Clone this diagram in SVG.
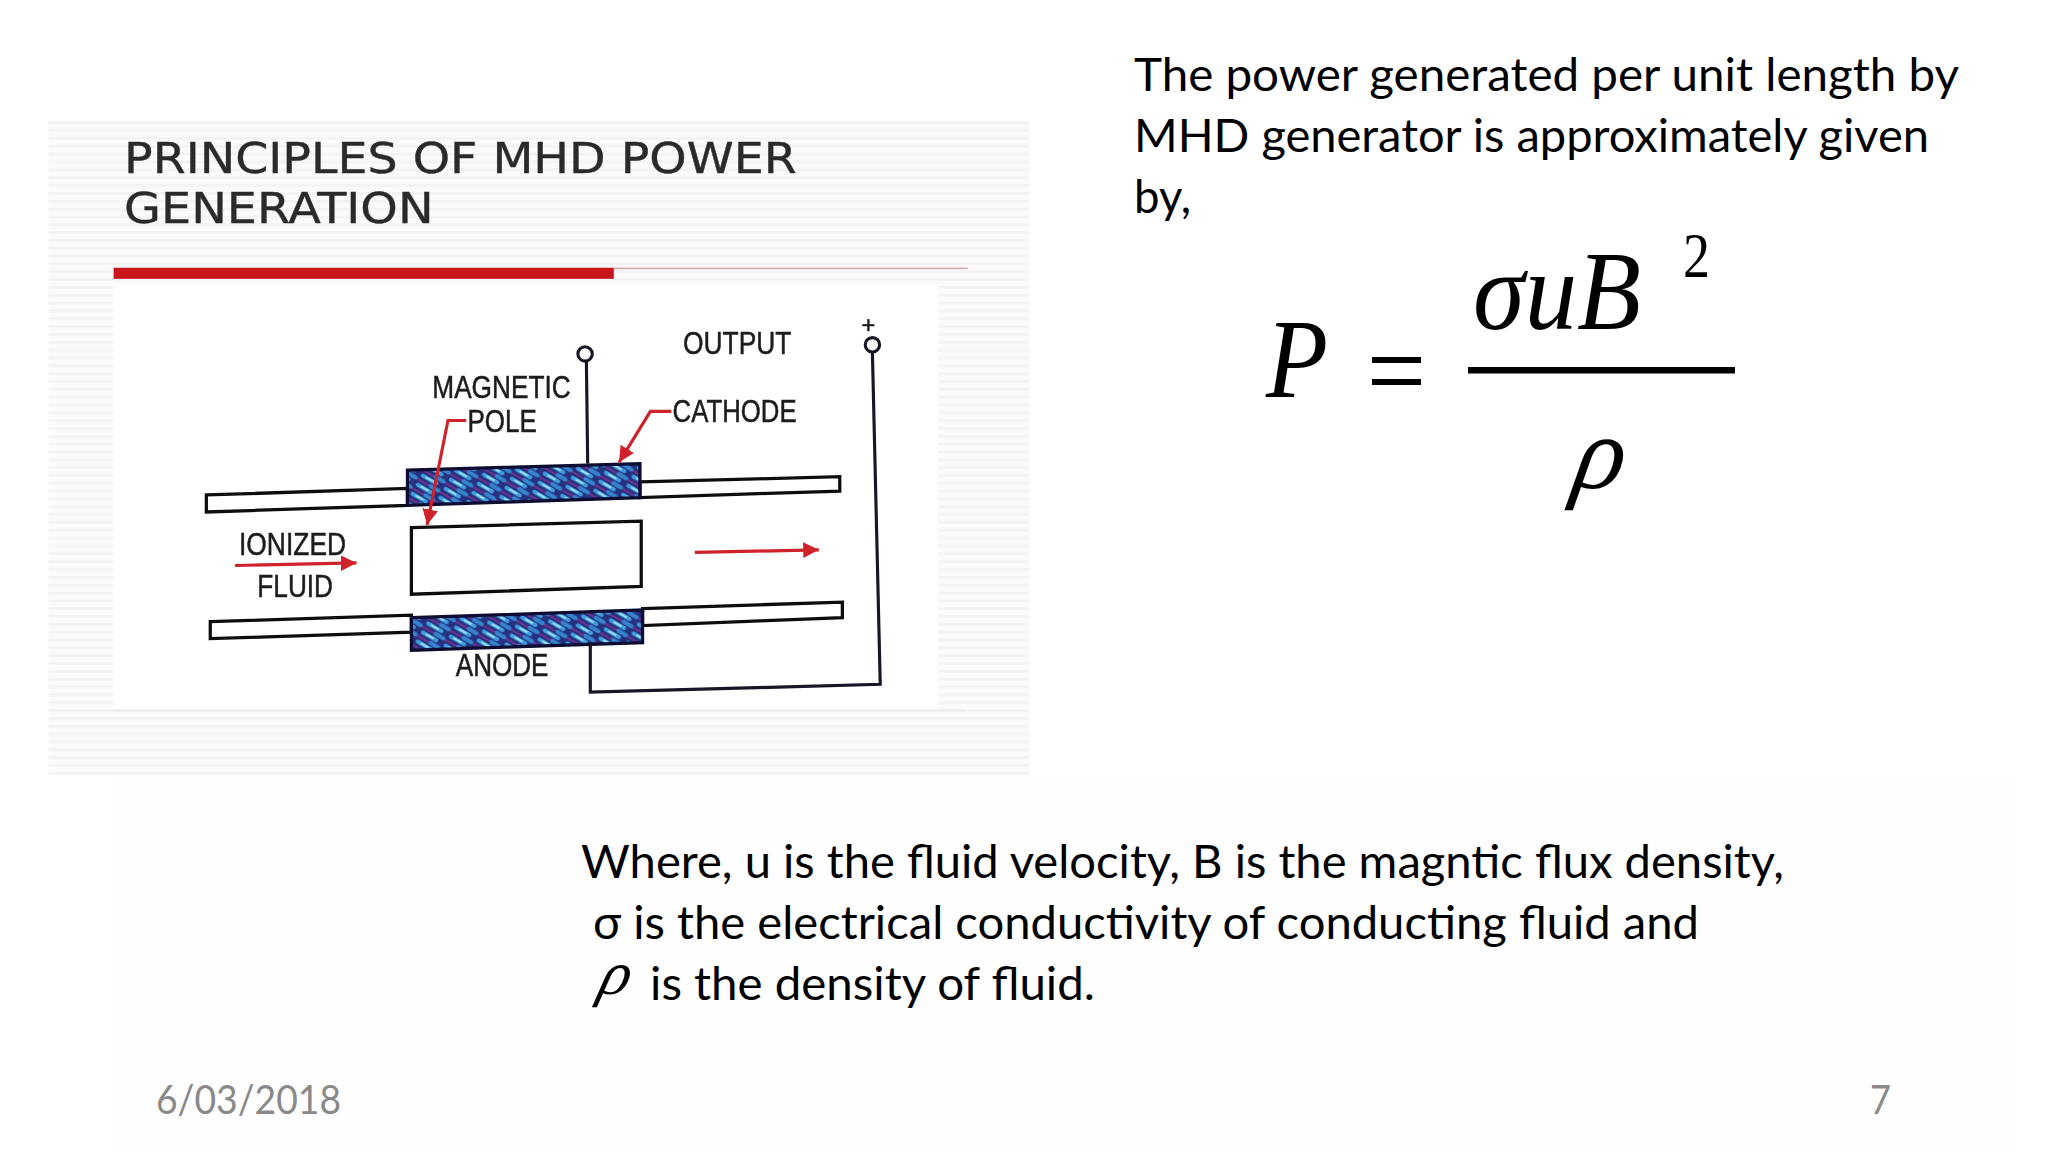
<svg xmlns="http://www.w3.org/2000/svg" width="2048" height="1152" viewBox="0 0 2048 1152">
<style>
.body{font-family:Lato,"Liberation Sans",sans-serif;font-size:46px;fill:#000}
.foot{font-family:Lato,"Liberation Sans",sans-serif;font-size:41px;fill:#898989}
.math{font-family:"Liberation Serif",serif;font-style:italic;fill:#000}
.head{font-family:"DejaVu Sans",sans-serif;font-size:33px;fill:#2c2c2c;stroke:#2c2c2c;stroke-width:.3px}
.lab{font-family:"Liberation Sans",sans-serif;font-size:24px;fill:#1c1c1c;stroke:#1c1c1c;stroke-width:.4px}
.plate{fill:#fff;stroke:#111;stroke-width:2.500}
.hatchblock{fill:url(#hatch);stroke:#0a0a30;stroke-width:2.500}
.wire{fill:none;stroke:#151525;stroke-width:2.400}
.redl{fill:none;stroke:#d0202a;stroke-width:2.400;marker-end:url(#ah)}
</style>
<defs>
<filter id="soft" x="0" y="0" width="100%" height="100%"><feGaussianBlur stdDeviation="0.45"/></filter>
<pattern id="stripes" width="6" height="6" patternUnits="userSpaceOnUse">
<rect width="6" height="6" fill="#fbfbfb"/><rect y="3" width="6" height="2" fill="#f3f3f3"/>
</pattern>
<pattern id="hatch" width="20" height="8" patternUnits="userSpaceOnUse" patternTransform="rotate(30)">
<rect width="20" height="8" fill="#25307f"/>
<rect y="0" x="1" width="15" height="3" rx="1.500" fill="#3f9ede"/>
<rect x="5" y="0.700" width="7" height="1.500" fill="#9be0f2"/>
<rect y="5" width="20" height="1.500" fill="#70308c"/>
<rect x="10" y="4" width="10" height="3" rx="1.500" fill="#3586cf"/>
</pattern>
<marker id="ah" markerWidth="6" markerHeight="6" refX="5" refY="2.500" orient="auto" markerUnits="strokeWidth">
<path d="M0 0L5 2.500L0 5z" fill="#d0202a"/>
</marker>
</defs>
<rect width="2048" height="1152" fill="#fff"/>
<rect x="114" y="776" width="1900" height="376" fill="#fefefe"/>
<g id="picture-panel" transform="scale(1.306)" filter="url(#soft)">
<rect x="37" y="93" width="751" height="501" fill="url(#stripes)"/>
<rect x="87" y="218" width="631" height="325" fill="#fff"/>
<line x1="87" y1="544" x2="740" y2="544" stroke="#eeeeee" stroke-width="2"/>
<text class="head" x="95" y="132.500" textLength="515" lengthAdjust="spacingAndGlyphs">PRINCIPLES OF MHD POWER</text>
<text class="head" x="95" y="170.500" textLength="237" lengthAdjust="spacingAndGlyphs">GENERATION</text>
<rect x="87" y="205" width="383" height="8.500" fill="#c8141c"/>
<line x1="470" y1="205.500" x2="741" y2="205.500" stroke="#cdaeae" stroke-width="1.500"/>
<g id="top-plate"><path class="plate" d="M158 379L312 374V387L158 392z"/><path class="plate" d="M490 369L643 365V376L490 381z"/></g>
<g id="bottom-plate"><path class="plate" d="M161 476L315 471V484L161 489z"/><path class="plate" d="M492 466L645 461V473L492 479z"/></g>
<g id="cathode"><path class="hatchblock" d="M312 360L490 355V381L312 387z"/><text class="lab" x="515" y="323" textLength="95" lengthAdjust="spacingAndGlyphs">CATHODE</text></g>
<g id="anode"><path class="hatchblock" d="M315 473L492 467V492L315 498z"/><text class="lab" x="349" y="518" textLength="71" lengthAdjust="spacingAndGlyphs">ANODE</text></g>
<g id="channel"><path class="plate" d="M315 404L491 399V449L315 455z"/></g>
<g id="magnetic-pole"><text class="lab" x="331" y="305" textLength="106" lengthAdjust="spacingAndGlyphs">MAGNETIC</text><text class="lab" x="358" y="331" textLength="53" lengthAdjust="spacingAndGlyphs">POLE</text></g>
<g id="ionized-fluid"><text class="lab" x="183" y="425" textLength="82" lengthAdjust="spacingAndGlyphs">IONIZED</text><text class="lab" x="197" y="457" textLength="58" lengthAdjust="spacingAndGlyphs">FLUID</text></g>
<g id="output"><text class="lab" x="523" y="271" textLength="83" lengthAdjust="spacingAndGlyphs">OUTPUT</text><text class="lab" x="665" y="255" text-anchor="middle" style="font-size:18px">+</text>
<circle class="wire" cx="448" cy="271" r="5.500"/><circle class="wire" cx="668" cy="264" r="5.500"/></g>
<g id="connectors">
<path class="wire" d="M449 277L450 355"/>
<path class="wire" d="M668 270L674 524L452 530V492"/>
<path class="redl" d="M357 322H343L327 402"/>
<path class="redl" d="M514 315H498L474 354"/>
<path class="redl" d="M180 433L273 431"/>
<path class="redl" d="M532 423L627 421"/>
</g>
</g>
<g id="intro-text">
<text class="body" x="1134" y="91" textLength="825" lengthAdjust="spacingAndGlyphs">The power generated per unit length by</text>
<text class="body" x="1134" y="152" textLength="795" lengthAdjust="spacingAndGlyphs">MHD generator is approximately given</text>
<text class="body" x="1134" y="213" textLength="57" lengthAdjust="spacingAndGlyphs">by,</text>
</g>
<g id="formula">
<text class="math" x="1266" y="397" font-size="113" textLength="62" lengthAdjust="spacingAndGlyphs">P</text>
<rect x="1372" y="357" width="49" height="6"/><rect x="1372" y="379" width="49" height="6"/>
<text class="math" x="1473" y="329" font-size="112" textLength="168" lengthAdjust="spacingAndGlyphs">σuB</text>
<text x="1683" y="277" font-size="64" textLength="27" lengthAdjust="spacingAndGlyphs" style="font-family:'Liberation Serif',serif">2</text>
<rect x="1468" y="367" width="267" height="6.500"/>
<text class="math" transform="translate(1571 488) skewX(-10)" font-size="104">ρ</text>
</g>
<g id="where-text">
<text class="body" x="581" y="878" textLength="1203" lengthAdjust="spacingAndGlyphs">Where, u is the fluid velocity, B is the magntic flux density,</text>
<text class="body" x="593" y="939" textLength="1106" lengthAdjust="spacingAndGlyphs">σ is the electrical conductivity of conducting fluid and</text>
<text class="math" transform="translate(597 994) skewX(-15)" font-size="62">ρ</text>
<text class="body" x="650" y="1000" textLength="445" lengthAdjust="spacingAndGlyphs">is the density of fluid.</text>
</g>
<g id="footer">
<text class="foot" x="156" y="1114" textLength="185" lengthAdjust="spacingAndGlyphs">6/03/2018</text>
<text class="foot" x="1870" y="1114" textLength="21" lengthAdjust="spacingAndGlyphs">7</text>
</g>
</svg>
